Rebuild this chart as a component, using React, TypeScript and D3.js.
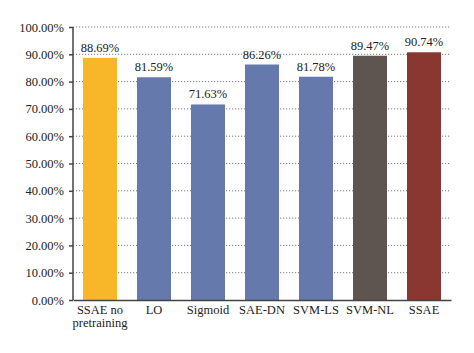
import * as d3 from "d3";
import React, { useRef, useEffect } from "react";

const categories = ["SSAE no\npretraining", "LO", "Sigmoid", "SAE-DN", "SVM-LS", "SVM-NL", "SSAE"];
const values = [88.69, 81.59, 71.63, 86.26, 81.78, 89.47, 90.74];
const barColors = ["#F8B629", "#6579AD", "#6579AD", "#6579AD", "#6579AD", "#5F5550", "#8A3631"];
const yTicks = [0, 10, 20, 30, 40, 50, 60, 70, 80, 90, 100];

const App: React.FC = () => {
  const svgRef = useRef<SVGSVGElement | null>(null);

  useEffect(() => {
    const width = 474;
    const height = 353;
    const margin = { top: 27, right: 23, bottom: 53, left: 73 };
    const graphWidth = width - margin.left - margin.right;
    const graphHeight = height - margin.top - margin.bottom;
    const font = "Liberation Serif, DejaVu Serif, serif";

    const svg = d3.select(svgRef.current)
      .attr("width", width)
      .attr("height", height)
      .attr("font-family", font)
      .style("position", "absolute")
      .style("left", "0px")
      .style("top", "0px")
      .style("background", "#fff")
      .html("");

    const g = svg.append("g")
      .attr("transform", `translate(${margin.left},${margin.top})`);

    const xScale = d3.scaleBand()
      .domain(categories)
      .range([0, graphWidth])
      .paddingInner(0.37)
      .paddingOuter(0.185);

    const yScale = d3.scaleLinear()
      .domain([0, 100])
      .range([graphHeight, 0]);

    // dotted grid
    g.selectAll(".grid")
      .data(yTicks.filter(t => t > 0))
      .enter()
      .append("line")
      .attr("class", "grid")
      .attr("x1", 0)
      .attr("x2", graphWidth)
      .attr("y1", d => yScale(d))
      .attr("y2", d => yScale(d))
      .attr("stroke", "#7a7a7a")
      .attr("stroke-width", 1)
      .attr("stroke-dasharray", "1.2,1.8");

    // bars
    g.selectAll(".bar")
      .data(values)
      .enter()
      .append("rect")
      .attr("class", "bar")
      .attr("x", (_, i) => xScale(categories[i]) || 0)
      .attr("width", xScale.bandwidth())
      .attr("y", d => yScale(d))
      .attr("height", d => graphHeight - yScale(d))
      .attr("fill", (_, i) => barColors[i]);

    // value labels
    g.selectAll(".val")
      .data(values)
      .enter()
      .append("text")
      .attr("class", "val")
      .attr("x", (_, i) => (xScale(categories[i]) || 0) + xScale.bandwidth() / 2)
      .attr("y", d => yScale(d) - 6)
      .attr("text-anchor", "middle")
      .attr("font-family", font)
      .attr("font-size", 12.5)
      .attr("fill", "#222")
      .text(d => d.toFixed(2) + "%");

    // Y axis
    const yAxis = g.append("g")
      .call(d3.axisLeft(yScale).tickValues(yTicks).tickSize(4).tickPadding(5)
        .tickFormat(d => (d as number).toFixed(2) + "%"));
    yAxis.attr("font-family", font).attr("font-size", 12.5);
    yAxis.selectAll("text").attr("fill", "#222");

    // X axis
    const xAxis = g.append("g")
      .attr("transform", `translate(0,${graphHeight})`)
      .call(d3.axisBottom(xScale).tickSize(0).tickPadding(0).tickFormat(() => ""));
    xAxis.attr("font-family", font).attr("font-size", 12.5);
    xAxis.selectAll(".tick").each(function (d) {
      const lines = String(d).split("\n");
      const t = d3.select(this).append("text")
        .attr("text-anchor", "middle")
        .attr("fill", "#222");
      lines.forEach((line, i) => {
        t.append("tspan").attr("x", 0).attr("y", 14 + i * 13).text(line);
      });
    });

    g.selectAll(".domain, .tick line")
      .style("stroke", "#444")
      .style("stroke-width", 1.5);
    yAxis.select(".domain").attr("d", `M0,0V${graphHeight}`);
  }, []);

  return <svg ref={svgRef}></svg>;
};

export default App;
